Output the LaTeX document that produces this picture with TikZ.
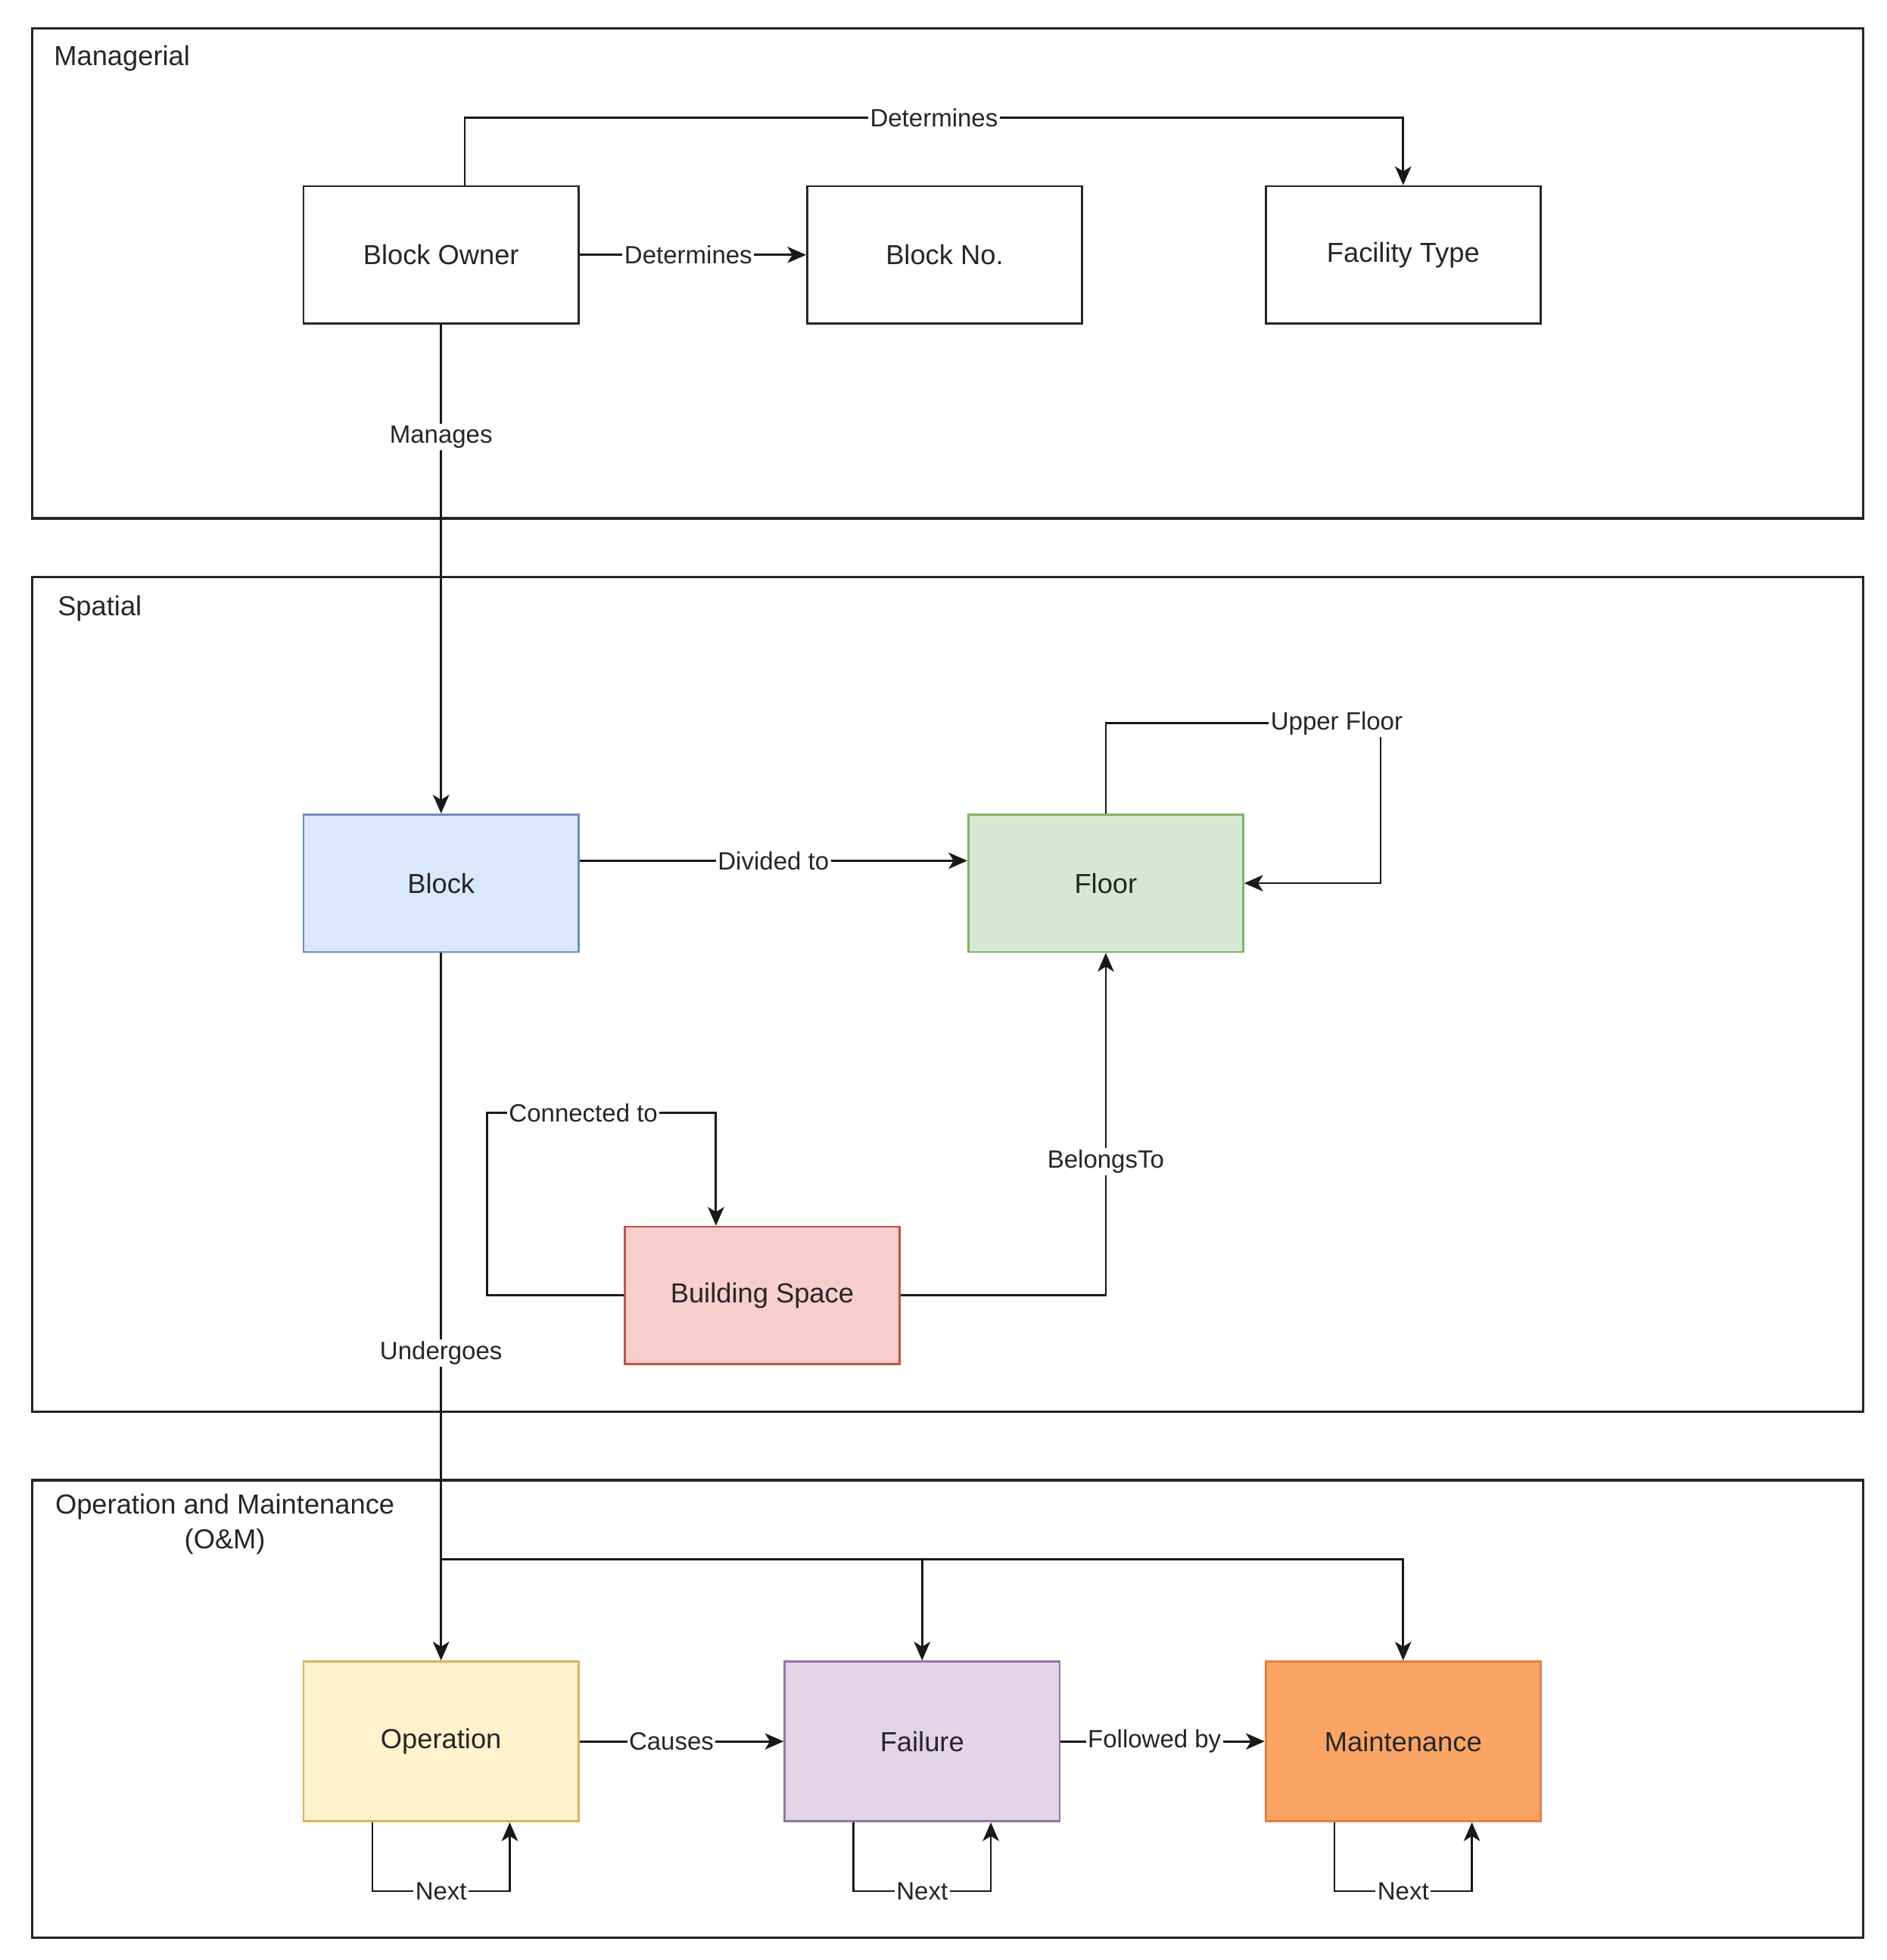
\documentclass[tikz,border=0pt]{standalone}
\usepackage{fontspec}
\setmainfont{Liberation Sans}
\usetikzlibrary{arrows.meta,calc}
\definecolor{blockfill}{HTML}{DAE8FC}\definecolor{blockdraw}{HTML}{6C8EBF}
\definecolor{floorfill}{HTML}{D5E8D4}\definecolor{floordraw}{HTML}{82B366}
\definecolor{spacefill}{HTML}{F8CECC}\definecolor{spacedraw}{HTML}{B85450}
\definecolor{opfill}{HTML}{FFF2CC}\definecolor{opdraw}{HTML}{D6B656}
\definecolor{failfill}{HTML}{E1D5E7}\definecolor{faildraw}{HTML}{9673A6}
\definecolor{mntfill}{HTML}{FAA564}\definecolor{mntdraw}{HTML}{E87D45}
\begin{document}
\begin{tikzpicture}[x=1pt,y=-1pt,
  box/.style={draw=black!85, line width=1.6pt, minimum width=220pt, minimum height=110pt, inner sep=0pt,
    font=\fontsize{22}{26}\selectfont, text=black!85},
  lane/.style={draw=black!85, line width=1.9pt, inner sep=0pt, anchor=north west},
  lanelabel/.style={font=\fontsize{22}{28}\selectfont, text=black!85, align=center, inner sep=0pt},
  conn/.style={line width=1.7pt, draw=black!90, -{Stealth[length=15pt,width=13pt,inset=4pt]}},
  plain/.style={line width=1.7pt, draw=black!90},
  lbl/.style={fill=white, inner sep=1.5pt, font=\fontsize{20}{24}\selectfont, text=black!85},
]
\useasboundingbox (0,0) rectangle (1510,1569);

% lanes
\node[lane, minimum width=1465pt, minimum height=392pt] (mgr) at (25,22) {};
\node[lane, minimum width=1465pt, minimum height=668pt] (spa) at (25,461) {};
\node[lane, minimum width=1465pt, minimum height=366pt] (onm) at (25,1184) {};
\node[lanelabel, anchor=west] (mgrl) at (43,47) {Managerial};
\node[lanelabel, anchor=west] (spal) at (46,487) {Spatial};
\node[lanelabel] (onml) at (180,1220) {Operation and Maintenance\\(O\&M)};

% boxes
\node[box] (bo) at (353,204) {Block Owner};
\node[box] (bn) at (756,204) {Block No.};
\node[box] (ft) at (1123,204) {Facility Type};
\node[box, fill=blockfill, draw=blockdraw] (blk) at (353,707) {Block};
\node[box, fill=floorfill, draw=floordraw] (flr) at (885,707) {Floor};
\node[box, fill=spacefill, draw=spacedraw] (bs) at (610,1037) {Building Space};
\node[box, minimum height=128pt, fill=opfill, draw=opdraw] (op) at (353,1394) {Operation};
\node[box, minimum height=128pt, fill=failfill, draw=faildraw] (fail) at (738,1394) {Failure};
\node[box, minimum height=128pt, fill=mntfill, draw=mntdraw] (mnt) at (1123,1394) {Maintenance};

% managerial connectors
\draw[conn] ([xshift=19pt]bo.north) -- ++(0,-54) -| node[lbl, pos=0.25] {Determines} (ft.north);
\draw[conn] (bo.east) -- node[lbl, pos=0.48] {Determines} (bn.west);
\draw[conn] (bo.south) -- node[lbl, pos=0.23] {Manages} (blk.north);

% spatial connectors
\draw[conn] ([yshift=18pt]blk.east) -- node[lbl, pos=0.5] {Divided to} ([yshift=18pt]flr.west);
\coordinate (ufc) at (1105,579);
\draw[conn] (flr.north) |- node[lbl, pos=0.92] {Upper Floor} (ufc) |- (flr.east);
\coordinate (ctc) at (390,891);
\draw[conn] (bs.west) -| (ctc) -| node[lbl, pos=0.21] {Connected to} ([xshift=-37pt]bs.north);
\draw[conn] (bs.east) -| node[lbl, pos=0.695] {BelongsTo} (flr.south);

% O&M connectors
\coordinate (split) at (353,1248);
\draw[plain] (blk.south) -- node[lbl, pos=0.66] {Undergoes} (split);
\draw[conn] (split) -- (op.north);
\draw[conn] (split) -| (fail.north);
\draw[conn] (split) -| (mnt.north);
\draw[conn] (op.east) -- node[lbl, pos=0.45] {Causes} (fail.west);
\draw[conn] (fail.east) -- node[lbl, pos=0.46] {Followed by} (mnt.west);
\draw[conn] ([xshift=-55pt]op.south) -- ++(0,55) -| node[lbl, pos=0.25] {Next} ([xshift=55pt]op.south);
\draw[conn] ([xshift=-55pt]fail.south) -- ++(0,55) -| node[lbl, pos=0.25] {Next} ([xshift=55pt]fail.south);
\draw[conn] ([xshift=-55pt]mnt.south) -- ++(0,55) -| node[lbl, pos=0.25] {Next} ([xshift=55pt]mnt.south);
\end{tikzpicture}
\end{document}
